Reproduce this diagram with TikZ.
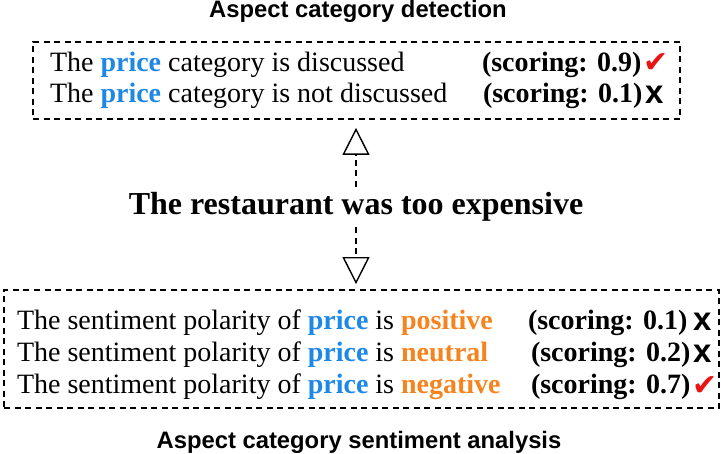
\documentclass[tikz,border=0pt]{standalone}
\usepackage{fontspec}
\setmainfont{Liberation Serif}
\setsansfont{Liberation Sans}
\newfontfamily\symfont{DejaVu Sans}
\usetikzlibrary{arrows.meta}
\definecolor{priceblue}{RGB}{30,136,229}
\definecolor{polorange}{RGB}{245,132,31}
\definecolor{checkred}{RGB}{235,20,20}
\newcommand{\pr}{\textcolor{priceblue}{\bfseries price}}
\newcommand{\pol}[1]{\textcolor{polorange}{\bfseries #1}}
\begin{document}
\begin{tikzpicture}[x=1pt,y=-1pt,
  txt/.style={anchor=base west,inner sep=0pt,outer sep=0pt,font=\fontsize{28}{30}\selectfont},
  score/.style={txt,font=\fontsize{28}{30}\selectfont\bfseries},
  ttl/.style={anchor=base,inner sep=0pt,font=\fontsize{23.8}{26}\selectfont\sffamily\bfseries},
  dbox/.style={draw,line width=1.8pt,dash pattern=on 6pt off 4.5pt,inner sep=0pt},
  okmark/.style={anchor=base west,inner sep=0pt,text=checkred,font=\fontsize{30}{32}\selectfont\symfont},
  nomark/.style={anchor=base west,inner sep=0pt,font=\fontsize{33}{35}\selectfont\sffamily\bfseries},
  arr/.style={line width=1.6pt,dash pattern=on 6pt off 4.5pt,-{Triangle[open,length=27pt,width=27pt,line width=1.4pt]}}
]
\useasboundingbox (0,0) rectangle (725,454);
% titles
\node[ttl] (t1) at (358,18) {Aspect category detection};
\node[ttl] (t2) at (359,448) {Aspect category sentiment analysis};
% boxes
\node[dbox,minimum width=647pt,minimum height=77pt] (topbox) at (356.5,80.5) {};
\node[dbox,minimum width=715pt,minimum height=118pt] (botbox) at (361.5,349) {};
% top box contents
\node[txt] (a1) at (50,72) {The \pr{} category is discussed};
\node[txt] (a2) at (50,103) {The \pr{} category is not discussed};
\node[score] (s1) at (482,72) {(scoring: 0.9)};
\node[score] (s2) at (483,103) {(scoring: 0.1)};
\node[okmark] (m1) at (643,73) {✔};
\node[nomark] (m2) at (645,104) {x};
% sentence
\node[anchor=base,inner sep=0pt,font=\fontsize{32}{34}\selectfont\bfseries] (sent) at (356,215) {The restaurant was too expensive};
% arrows
\draw[arr,shorten <=6pt,shorten >=8pt] (sent.north) -- (sent.north |- topbox.south);
\draw[arr,shorten <=5pt,shorten >=5pt] (sent.south) -- (sent.south |- botbox.north);
% bottom box contents
\node[txt] (b1) at (17,329) {The sentiment polarity of \pr{} is \pol{positive}};
\node[txt] (b2) at (17,361) {The sentiment polarity of \pr{} is \pol{neutral}};
\node[txt] (b3) at (17,393) {The sentiment polarity of \pr{} is \pol{negative}};
\node[score] (r1) at (528,329) {(scoring: 0.1)};
\node[score] (r2) at (531,361) {(scoring: 0.2)};
\node[score] (r3) at (531,393) {(scoring: 0.7)};
\node[nomark] (n1) at (693,330) {x};
\node[nomark] (n2) at (693,362) {x};
\node[okmark] (n3) at (692,395) {✔};
\end{tikzpicture}
\end{document}
